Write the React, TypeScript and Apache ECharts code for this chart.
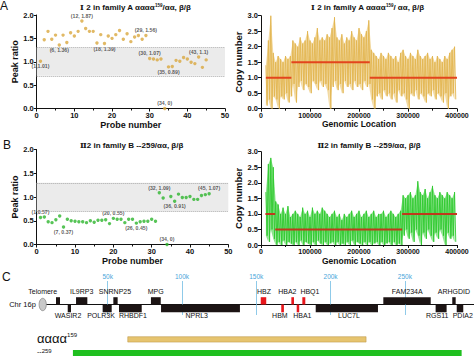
import React, { useEffect, useRef } from 'react';
import * as echarts from 'echarts';

const FONT = '"Liberation Sans", Arial, sans-serif';

// ---------- Panel A / B : peak ratio per probe ----------
const PROBES = Array.from({ length: 45 }, (_, i) => i + 1);
const A_RATIO = [1.01, 1.47, 1.65, 1.48, 1.57, 1.36, 1.57, 1.41, 1.62, 1.55,
  1.65, 1.87, 1.71, 1.65, 1.65, 1.40, 1.58, 1.39, 1.55, 1.50,
  1.58, 1.67, 1.48, 1.60, 1.43, 1.53, 1.56, 1.48, 1.56, 1.07,
  1.06, 1.04, 1.06, 0, 0.89, 0.90, 1.03, 1.01, 1.09, 1.06,
  0.99, 0.96, 1.1, 0.88, 1.04];
const B_RATIO = [0.57, 0.58, 0.48, 0.46, 0.52, 0.60, 0.37, 0.53, 0.50, 0.49,
  0.48, 0.48, 0.46, 0.50, 0.47, 0.51, 0.51, 0.52, 0.44, 0.55,
  0.53, 0.53, 0.46, 0.53, 0.53, 0.45, 0.48, 0.49, 0.49, 0.53,
  0.49, 1.09, 0.98, 0, 1.01, 0.91, 1.06, 0.99, 0.99, 1.01,
  0.95, 0.95, 1.03, 1.05, 1.07];
const A_LABELED: [number, string][] = [[1, 'bottom'], [6, 'bottom'], [12, 'top'], [18, 'bottom'], [29, 'top'], [30, 'top'], [34, 'top'], [35, 'bottom'], [43, 'top']];
const B_LABELED: [number, string][] = [[1, 'top'], [7, 'bottom'], [20, 'top'], [26, 'bottom'], [32, 'top'], [34, 'top'], [36, 'bottom'], [45, 'top']];
const NORMAL_BAND = [0.7, 1.3];

// ---------- Copy number (bins of 5 kb starting at 10 kb: max / min) ----------
const CN_START = 10000;
const CN_STEP = 5000;
const A_HI = [1.4, 2.2, 3.0, 1.8, 1.5, 1.7, 1.6, 1.5, 1.7, 1.6,
  1.7, 2.2, 2.1, 2.0, 2.3, 2.1, 2.2, 2.5, 2.2, 2.1,
  2.3, 2.6, 2.2, 2.3, 2.2, 2.4, 2.3, 2.6, 2.95, 2.3,
  2.2, 2.4, 2.1, 2.3, 2.2, 2.5, 2.3, 2.2, 2.6, 2.4,
  2.3, 2.5, 2.85, 1.9, 1.8, 1.7, 1.6, 1.8, 1.7, 1.6,
  1.8, 1.7, 1.6, 1.7, 1.5, 1.8, 1.9, 1.7, 1.6, 1.8,
  1.7, 1.6, 1.9, 1.7, 1.6, 1.7, 1.8, 1.6, 1.7, 1.5,
  1.7, 1.6, 1.5, 1.7, 1.6, 1.8, 1.9, 2.0];
const A_LO = [0.1, 0.3, 0.0, 0.4, 0.3, 0.0, 0.4, 0.3, 0.5, 0.2,
  0.4, 0.8, 0.2, 0.7, 0.9, 0.6, 0.8, 0.7, 0.5, 0.9,
  0.8, 0.6, 0.9, 0.7, 0.8, 0.6, 0.0, 0.7, 0.9, 0.6,
  0.8, 0.5, 0.9, 0.7, 0.8, 0.6, 0.9, 0.7, 0.8, 0.6,
  0.9, 0.7, 0.8, 0.3, 0.0, 0.4, 0.5, 0.3, 0.6, 0.4,
  0.5, 0.3, 0.5, 0.2, 0.6, 0.4, 0.5, 0.3, 0.0, 0.5,
  0.4, 0.6, 0.3, 0.5, 0.4, 0.2, 0.5, 0.4, 0.6, 0.3,
  0.5, 0.4, 0.2, 0.5, 0.0, 0.4, 0.5, 0.3];
const B_HI = [1.7, 2.6, 2.8, 2.5, 1.4, 1.3, 1.0, 1.2, 1.0, 1.25,
  0.9, 1.0, 1.1, 1.0, 0.9, 1.2, 1.0, 1.1, 0.9, 1.2,
  1.0, 1.1, 1.0, 1.2, 1.1, 1.0, 0.9, 1.0, 1.1, 0.9,
  1.0, 0.8, 1.0, 0.9, 1.0, 1.1, 0.9, 1.0, 1.1, 0.9,
  1.0, 1.1, 0.9, 1.0, 1.1, 0.9, 1.0, 1.0, 1.1, 0.9,
  1.0, 1.1, 1.0, 0.9, 1.0, 1.1, 1.6, 1.5, 1.6, 1.7,
  1.5, 1.6, 2.05, 1.7, 1.6, 1.8, 1.5, 1.7, 1.9, 1.6,
  1.5, 1.7, 1.6, 1.5, 1.7, 1.6, 1.5, 1.7];
const B_LO = [0.3, 0.1, 0.5, 0.2, 0.0, 0.1, 0.0, 0.15, 0.0, 0.1,
  0.05, 0.0, 0.1, 0.0, 0.15, 0.0, 0.1, 0.05, 0.0, 0.1,
  0.0, 0.15, 0.05, 0.0, 0.1, 0.0, 0.05, 0.1, 0.0, 0.1,
  0.0, 0.05, 0.0, 0.1, 0.0, 0.15, 0.0, 0.1, 0.05, 0.0,
  0.1, 0.0, 0.1, 0.0, 0.05, 0.1, 0.0, 0.1, 0.0, 0.05,
  0.1, 0.0, 0.1, 0.0, 0.05, 0.0, 0.3, 0.5, 0.2, 0.4,
  0.1, 0.5, 0.3, 0.0, 0.4, 0.2, 0.5, 0.3, 0.1, 0.4,
  0.2, 0.5, 0.3, 0.0, 0.4, 0.2, 0.3, 0.1];
// segments: [start, end, copy number]
const A_SEG = [[10000, 62000, 1.0], [62000, 222000, 1.5], [222000, 400000, 1.0]];
const B_SEG = [[9000, 29000, 1.0], [29000, 288000, 0.5], [288000, 400000, 1.0]];

// ---------- Panel C : genes (kb) ----------
const GENE_NAMES = ['', 'WASIR2', 'IL9RP3', 'POLR3K', 'SNRNP25', 'RHBDF1', 'MPG', 'NPRL3', 'HBZ', 'HBM', 'HBA2', 'HBA1', 'HBQ1', 'LUC7L', 'FAM234A', 'RGS11', 'ARHGDID', 'PDIA2'];
const GENE_START = [15.2, 23.1, 28.7, 46.6, 53.8, 57.6, 79.1, 85.9, 153.0, 166.8, 173.6, 177.2, 181.0, 190.0, 235.5, 270.7, 281.9, 284.9];
const GENE_END = [17.9, 25.3, 36.3, 52.7, 56.7, 72.9, 85.7, 139.0, 156.7, 168.6, 175.4, 178.9, 183.0, 231.9, 267.4, 278.1, 284.2, 289.3];
const GENE_SIDE = ['up', 'down', 'up', 'down', 'up', 'down', 'up', 'down', 'up', 'down', 'up', 'down', 'up', 'down', 'up', 'down', 'up', 'down'];
const GENE_LABEL_AT = [0, 23.3, 32.5, 45.5, 54.9, 67.0, 82.3, 109.9, 155.2, 165.9, 170.9, 181.0, 186.1, 212.4, 251.6, 271.8, 283.0, 289.0];
const GLOBIN = ['HBZ', 'HBM', 'HBA2', 'HBA1', 'HBQ1'];
const SCALE_KB = [50, 100, 150, 200, 250];
const ALLELE_NAMES = ['αααα', '--'];
const ALLELE_SUP = ['159', '259'];
const ALLELE_RANGE = [[63.5, 223.9], [26.6, 288.2]];

const CHR_Y = 304.5;
const GOLD = '#d9a83e';
const GREEN = '#2db52d';

function axisBase(fs: number) {
  return {
    axisLine: { show: true, onZero: false, lineStyle: { color: '#111', width: 1 } },
    axisTick: { show: true, length: 3, lineStyle: { color: '#111', width: 1 } },
    minorTick: { show: true, splitNumber: 2, length: 2, lineStyle: { color: '#111', width: 1 } },
    axisLabel: { color: '#111', fontSize: fs, fontWeight: 'bold', fontFamily: FONT, margin: 3, showMinLabel: true, showMaxLabel: true },
    splitLine: { show: false },
    nameLocation: 'middle',
    nameTextStyle: { color: '#111', fontWeight: 'bold', fontFamily: FONT, fontSize: 9 },
  };
}

function scatterSeries(values: number[], labeled: [number, string][], idx: number, color: string) {
  const data = PROBES.map((p, i) => {
    const lab = labeled.find((l) => l[0] === p);
    const item: any = { value: [p, values[i]] };
    if (lab) {
      item.label = {
        show: true, position: lab[1], distance: 1,
        formatter: () => (p === 1 ? `(${p},${values[i]})` : `(${p}, ${values[i]})`),
        fontSize: 5.2, fontWeight: 'bold', color: '#333', fontFamily: FONT,
      };
    }
    return item;
  });
  return {
    type: 'scatter', xAxisIndex: idx, yAxisIndex: idx, symbol: 'circle', symbolSize: 3.4,
    itemStyle: { color }, data, z: 4, silent: true,
    markArea: { silent: true, itemStyle: { color: '#ebebeb' }, data: [[{ yAxis: NORMAL_BAND[0] }, { yAxis: NORMAL_BAND[1] }]] },
    markLine: {
      silent: true, symbol: ['none', 'none'], label: { show: false },
      lineStyle: { color: '#a8a8a8', type: 'dotted', width: 1 },
      data: NORMAL_BAND.map((v) => ({ yAxis: v })),
    },
  };
}

function zigzag(hi: number[], lo: number[]) {
  return hi.flatMap((h, i) => [[CN_START + i * CN_STEP, h], [CN_START + i * CN_STEP + CN_STEP / 2, lo[i]]]);
}

function cnSeries(hi: number[], lo: number[], seg: number[][], idx: number, color: string, fill: string, segColor: string) {
  const bandData = hi.slice(0, -1).map((h, i) => [
    CN_START + i * CN_STEP, h, lo[i], CN_START + (i + 1) * CN_STEP, hi[i + 1], lo[i + 1],
  ]);
  const out: any[] = [{
    type: 'custom', xAxisIndex: idx, yAxisIndex: idx, data: bandData, silent: true, z: 1,
    renderItem: (params: any, api: any) => {
      const a = api.coord([api.value(0), api.value(1)]);
      const b = api.coord([api.value(3), api.value(4)]);
      const c = api.coord([api.value(3), api.value(5)]);
      const d = api.coord([api.value(0), api.value(2)]);
      return { type: 'polygon', shape: { points: [a, b, c, d] }, style: { fill, opacity: 0.8 } };
    },
  }, {
    type: 'line', xAxisIndex: idx, yAxisIndex: idx, data: zigzag(hi, lo), symbol: 'none', showSymbol: false,
    lineStyle: { color, width: 0.9 }, z: 2, silent: true,
  }];
  seg.forEach((s) => out.push({
    type: 'line', xAxisIndex: idx, yAxisIndex: idx, data: [[s[0], s[2]], [s[1], s[2]]], symbol: 'none', showSymbol: false,
    lineStyle: { color: segColor, width: 2 }, z: 3, silent: true,
  }));
  return out;
}

function title(x: number, y: number, text: string, rich: any) {
  return { type: 'text', x, y, style: { text, rich, align: 'center', verticalAlign: 'middle', fill: '#111' } };
}

const T_RICH = {
  r: { fontFamily: '"DejaVu Serif", serif', fontSize: 8, fontWeight: 'bold', fill: '#111' },
  a: { fontFamily: FONT, fontSize: 8, fontWeight: 'bold', fill: '#111' },
  s: { fontFamily: FONT, fontSize: 4.5, fontWeight: 'bold', fill: '#111', verticalAlign: 'top' },
};

function buildOption() {
  const xAx: any[] = [];
  const yAx: any[] = [];
  const leftX = (g: number) => ({ ...axisBase(7.5), type: 'value', gridIndex: g, min: 0, max: 50, interval: 10, name: 'Probe number', nameGap: 11 });
  const leftY = (g: number) => ({ ...axisBase(7.5), type: 'value', gridIndex: g, min: 0, max: 2, interval: 0.5, name: 'Peak ratio', nameGap: 15, minorTick: { show: false }, axisLabel: { ...axisBase(7.5).axisLabel, formatter: (v: number) => v.toFixed(1) } });
  const rightX = (g: number) => ({ ...axisBase(7), type: 'value', gridIndex: g, min: 0, max: 400000, interval: 100000, name: 'Genomic Location', nameGap: 11, nameTextStyle: { ...axisBase(7).nameTextStyle, fontSize: 8.5 }, axisLabel: { ...axisBase(7).axisLabel, formatter: (v: number) => String(v) } });
  const rightY = (g: number) => ({ ...axisBase(7.5), type: 'value', gridIndex: g, min: 0, max: 3, interval: 0.5, name: 'Copy number', nameGap: 13, minorTick: { show: false }, nameTextStyle: { ...axisBase(7).nameTextStyle, fontSize: 9.5 }, axisLabel: { ...axisBase(7.5).axisLabel, formatter: (v: number) => v.toFixed(1) } });
  xAx.push(leftX(0), rightX(1), leftX(2), rightX(3));
  yAx.push(leftY(0), rightY(1), leftY(2), rightY(3));
  xAx.push({ type: 'value', gridIndex: 4, min: 0, max: 290, show: false });
  yAx.push({ type: 'value', gridIndex: 4, min: 0, max: 1, show: false });

  const geneData = GENE_NAMES.map((n, i) => [GENE_START[i], GENE_END[i], GENE_SIDE[i] === 'up' ? 1 : 0, GENE_LABEL_AT[i], GLOBIN.includes(n) ? 1 : 0]);

  const series: any[] = [
    scatterSeries(A_RATIO, A_LABELED, 0, GOLD),
    scatterSeries(B_RATIO, B_LABELED, 2, GREEN),
    ...cnSeries(A_HI, A_LO, A_SEG, 1, '#e2b650', '#efd08a', '#e3451d'),
    ...cnSeries(B_HI, B_LO, B_SEG, 3, '#2fc92f', '#6fdc6f', '#c0391c'),
    {
      type: 'line', xAxisIndex: 4, yAxisIndex: 4, data: [[0, -5]], symbol: 'none', showSymbol: false, silent: true, z: 1,
      lineStyle: { opacity: 0 },
      markLine: {
        silent: true, symbol: ['none', 'none'],
        lineStyle: { color: '#72bde3', width: 0.8, type: 'solid' },
        label: { show: true, position: 'end', distance: 1, formatter: (p: any) => `${p.value}k`, color: '#4aa6da', fontSize: 6.5, fontFamily: FONT },
        data: SCALE_KB.map((v) => ({ xAxis: v })),
      },
    },
    {
      type: 'custom', xAxisIndex: 4, yAxisIndex: 4, clip: false, silent: true, z: 5, data: geneData,
      renderItem: (params: any, api: any) => {
        const i = params.dataIndex;
        const x0 = api.coord([api.value(0), 0])[0];
        const x1 = api.coord([api.value(1), 0])[0];
        const up = api.value(2) === 1;
        const hb = api.value(4) === 1;
        const lx = api.coord([api.value(3), 0])[0];
        const children: any[] = [{
          type: 'rect',
          shape: { x: x0, y: up ? CHR_Y - 7.3 : CHR_Y, width: x1 - x0, height: up ? 7.3 : 7.8 },
          style: { fill: hb ? '#e8161b' : '#1c1414' },
        }];
        if (GENE_NAMES[i]) {
          children.push({
            type: 'text', x: lx, y: up ? 291 : 315,
            style: { text: GENE_NAMES[i], fontSize: 7, fontFamily: FONT, fill: '#111', align: 'center', verticalAlign: 'middle' },
          });
        }
        return { type: 'group', children };
      },
    },
    {
      type: 'custom', xAxisIndex: 4, yAxisIndex: 4, clip: false, silent: true, z: 5,
      data: ALLELE_RANGE.map((r, i) => [r[0], r[1], i]),
      renderItem: (params: any, api: any) => {
        const x0 = api.coord([api.value(0), 0])[0];
        const x1 = api.coord([api.value(1), 0])[0];
        const k = api.value(2);
        return {
          type: 'rect',
          shape: k === 0 ? { x: x0, y: 336.7, width: x1 - x0, height: 5.4 } : { x: x0, y: 350, width: x1 - x0, height: 10 },
          style: k === 0 ? { fill: '#e6c46f', stroke: '#b8913f', lineWidth: 0.5 } : { fill: '#1fbf1f' },
        };
      },
    },
  ];

  const graphic: any[] = [
    { type: 'text', x: 0, y: 0, style: { text: 'A', fontSize: 12, fontFamily: FONT, fill: '#111' } },
    { type: 'text', x: 3, y: 139, style: { text: 'B', fontSize: 12, fontFamily: FONT, fill: '#111' } },
    { type: 'text', x: 2, y: 271, style: { text: 'C', fontSize: 12, fontFamily: FONT, fill: '#111' } },
    title(135.5, 7, '{r|Ⅰ}{a| 2 in family A αααα}{s|159}{a|/αα, β/β}', T_RICH),
    title(367.5, 7, '{r|Ⅰ}{a| 2 in family A αααα}{s|159}{a|/ αα, β/β}', T_RICH),
    title(131.7, 145, '{r|Ⅱ}{a|2 in family B --259/αα, β/β}', T_RICH),
    title(369, 145, '{r|Ⅱ}{a|2 in family B --259/αα, β/β}', T_RICH),
    { type: 'line', z: 0, shape: { x1: 45.7, y1: CHR_Y, x2: 474, y2: CHR_Y }, style: { stroke: '#111', lineWidth: 1 } },
    { type: 'ellipse', z: 10, shape: { cx: 42.7, cy: CHR_Y, rx: 3.6, ry: 6.2 }, style: { fill: '#c9c9c9', stroke: '#8a8a8a', lineWidth: 0.8 } },
    { type: 'text', x: 42.7, y: 291, style: { text: 'Telomere', fontSize: 7, fontFamily: FONT, fill: '#111', align: 'center', verticalAlign: 'middle' } },
    { type: 'text', x: 22.5, y: CHR_Y, style: { text: 'Chr 16p', fontSize: 7.5, fontFamily: FONT, fill: '#111', align: 'center', verticalAlign: 'middle' } },
    {
      type: 'text', x: 37, y: 338.5,
      style: {
        text: `{a|${ALLELE_NAMES[0]}}{s|${ALLELE_SUP[0]}}`, verticalAlign: 'middle',
        rich: { a: { fontSize: 13, fontFamily: FONT, fill: '#111' }, s: { fontSize: 6, fontFamily: FONT, fill: '#111', verticalAlign: 'top' } },
      },
    },
    {
      type: 'text', x: 37, y: 351,
      style: {
        text: `{a|${ALLELE_NAMES[1]}}{s|${ALLELE_SUP[1]}}`, verticalAlign: 'middle',
        rich: { a: { fontSize: 7, fontFamily: FONT, fill: '#111' }, s: { fontSize: 6, fontFamily: FONT, fill: '#111', verticalAlign: 'top' } },
      },
    },
  ];

  return {
    animation: false,
    backgroundColor: '#ffffff',
    grid: [
      { left: 36.7, top: 15, width: 188.3, height: 93.5, outerBoundsMode: 'none' },
      { left: 261, top: 15.7, width: 196, height: 93, outerBoundsMode: 'none' },
      { left: 36.7, top: 149.5, width: 191.6, height: 95, outerBoundsMode: 'none' },
      { left: 261, top: 151.7, width: 196, height: 93.3, outerBoundsMode: 'none' },
      { left: 33.4, top: 281, width: 430.9, height: 34, outerBoundsMode: 'none' },
    ],
    xAxis: xAx,
    yAxis: yAx,
    series,
    graphic,
  };
}

export default function App() {
  const ref = useRef<HTMLDivElement>(null);
  useEffect(() => {
    if (!ref.current) return;
    const chart = echarts.init(ref.current, undefined, { renderer: 'svg' });
    chart.setOption(buildOption() as any);
    return () => chart.dispose();
  }, []);
  return <div ref={ref} style={{ position: 'absolute', left: 0, top: 0, width: 474, height: 356, background: '#fff' }} />;
}
